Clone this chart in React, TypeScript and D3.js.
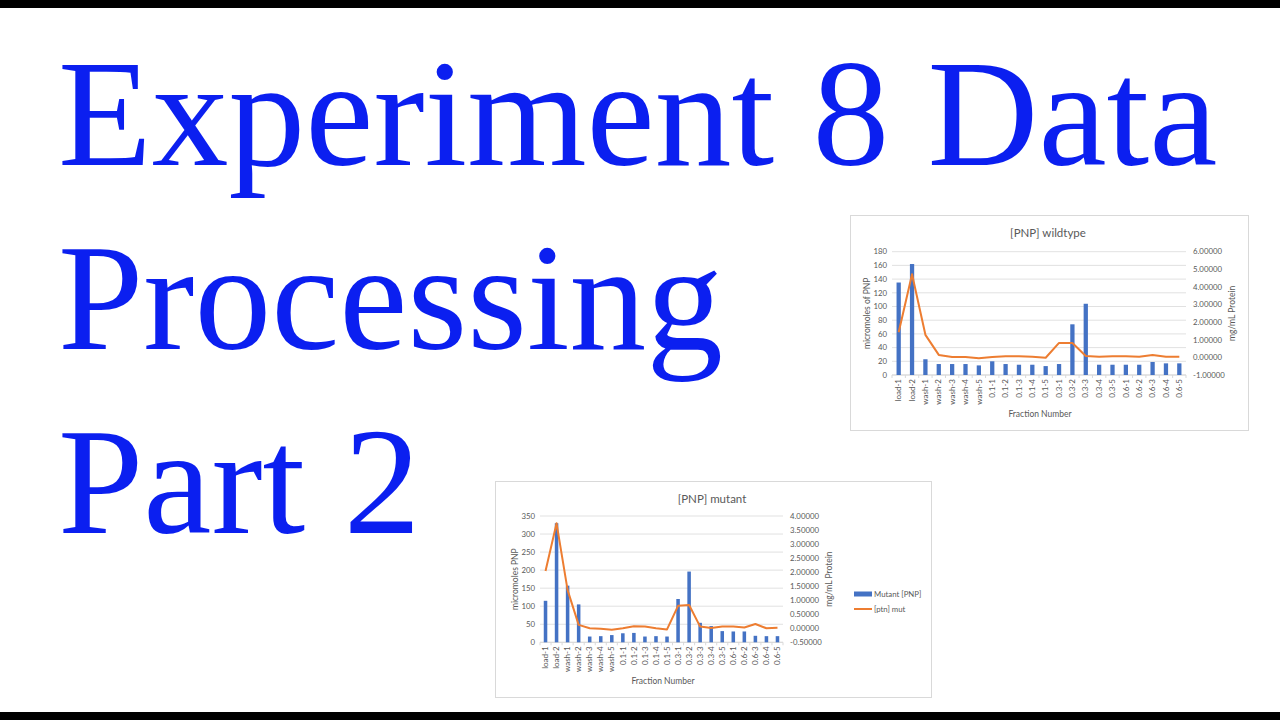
import * as d3 from "d3";

// fractions collected from the column
const fractions = [
  "load-1", "load-2", "wash-1", "wash-2", "wash-3", "wash-4", "wash-5",
  "0.1-1", "0.1-2", "0.1-3", "0.1-4", "0.1-5",
  "0.3-1", "0.3-2", "0.3-3", "0.3-4", "0.3-5",
  "0.6-1", "0.6-2", "0.6-3", "0.6-4", "0.6-5",
];

// wildtype: micromoles of PNP (bars) and mg/mL protein (line)
const wildtypePnp = [135, 162, 23, 16, 16, 16, 14, 20, 16, 15, 15, 13, 16, 74, 104, 15, 15, 15, 15, 19, 17, 17];
const wildtypeProtein = [1.43, 4.72, 1.28, 0.14, 0.02, 0.02, -0.05, 0.02, 0.07, 0.07, 0.03, -0.02, 0.82, 0.82, 0.08, 0.04, 0.06, 0.06, 0.04, 0.14, 0.04, 0.04];

// mutant
const mutantPnp = [115, 330, 157, 105, 16, 17, 20, 25, 26, 16, 17, 16, 120, 196, 54, 45, 31, 30, 30, 18, 17, 17];
const mutantProtein = [2.04, 3.74, 1.36, 0.12, 0.0, -0.02, -0.05, 0.0, 0.07, 0.06, 0.0, -0.04, 0.8, 0.83, 0.06, 0.01, 0.06, 0.06, 0.03, 0.15, 0.0, 0.02];

const wtLeftTicks = [0, 20, 40, 60, 80, 100, 120, 140, 160, 180];
const wtRightTicks = [-1, 0, 1, 2, 3, 4, 5, 6];
const mutLeftTicks = [0, 50, 100, 150, 200, 250, 300, 350];
const mutRightTicks = [-0.5, 0, 0.5, 1, 1.5, 2, 2.5, 3, 3.5, 4];

const headingLines = ["Experiment 8 Data", "Processing", "Part 2"];

const BLUE = "#4472c4";
const ORANGE = "#ed7d31";
const GREY = "#595959";
const GRID = "#d9d9d9";
const FONT = "Lato, 'Open Sans', sans-serif";

type ChartProps = {
  box: [number, number, number, number];
  plot: { left: number; right: number; top: number; bottom: number };
  title: string;
  yTitle: string;
  bars: number[];
  line: number[];
  leftTicks: number[];
  rightTicks: number[];
  titleX: number;
  xTitleX: number;
  legend?: { x: number; y: number; bar: string; line: string };
};

function Chart(p: ChartProps) {
  const { plot } = p;
  const x = d3.scaleBand<string>()
    .domain(fractions)
    .range([plot.left, plot.right])
    .paddingInner(0.68)
    .paddingOuter(0.34);
  const yL = d3.scaleLinear()
    .domain(d3.extent(p.leftTicks) as [number, number])
    .range([plot.bottom, plot.top]);
  const yR = d3.scaleLinear()
    .domain(d3.extent(p.rightTicks) as [number, number])
    .range([plot.bottom, plot.top]);
  const cx = (f: string) => (x(f) as number) + x.bandwidth() / 2;
  const path = d3.line<number>()
    .x((_, i) => cx(fractions[i]))
    .y((d) => yR(d))(p.line);
  const step = x.step();
  const midY = (plot.top + plot.bottom) / 2;

  return (
    <g fontFamily={FONT} fill={GREY}>
      <rect x={p.box[0]} y={p.box[1]} width={p.box[2]} height={p.box[3]} fill="#fff" stroke={GRID} />
      <text x={p.titleX} y={p.box[1] + 21} textAnchor="middle" fontSize={11.5}>{p.title}</text>

      {p.leftTicks.map((t) => (
        <g key={"l" + t}>
          <line x1={plot.left} x2={plot.right} y1={yL(t)} y2={yL(t)} stroke={GRID} strokeWidth={0.8} />
          <text x={plot.left - 5} y={yL(t)} dy="0.35em" textAnchor="end" fontSize={7.8}>{t}</text>
        </g>
      ))}
      {p.rightTicks.map((t) => (
        <text key={"r" + t} x={plot.right + 7} y={yR(t)} dy="0.35em" fontSize={7.8}>{t.toFixed(5)}</text>
      ))}

      {/* category axis with ticks between fractions */}
      <line x1={plot.left} x2={plot.right} y1={plot.bottom} y2={plot.bottom} stroke={GRID} />
      {d3.range(fractions.length + 1).map((i) => (
        <line key={"t" + i} x1={plot.left + i * step} x2={plot.left + i * step}
          y1={plot.bottom} y2={plot.bottom + 3} stroke={GRID} />
      ))}
      {fractions.map((f) => (
        <text key={f} transform={`translate(${cx(f) + 2.7},${plot.bottom + 4}) rotate(-90)`}
          textAnchor="end" fontSize={8}>{f}</text>
      ))}

      {p.bars.map((v, i) => (
        <rect key={"b" + i} x={x(fractions[i])} y={yL(v)} width={x.bandwidth()}
          height={yL(0) - yL(v)} fill={BLUE} />
      ))}
      <path d={path ?? ""} fill="none" stroke={ORANGE} strokeWidth={2} strokeLinejoin="round" />

      <text transform={`translate(${plot.left - 22},${midY}) rotate(-90)`} textAnchor="middle" fontSize={8.5}>{p.yTitle}</text>
      <text transform={`translate(${plot.right + 49},${midY}) rotate(-90)`} textAnchor="middle" fontSize={8.5}>mg/mL Protein</text>
      <text x={p.xTitleX} y={p.box[1] + p.box[3] - 14} textAnchor="middle" fontSize={8.5}>Fraction Number</text>

      {p.legend && (
        <g fontSize={7.8}>
          <rect x={p.legend.x} y={p.legend.y - 2.5} width={18} height={5} fill={BLUE} />
          <text x={p.legend.x + 20} y={p.legend.y} dy="0.35em">{p.legend.bar}</text>
          <line x1={p.legend.x} x2={p.legend.x + 18} y1={p.legend.y + 15} y2={p.legend.y + 15} stroke={ORANGE} strokeWidth={2} />
          <text x={p.legend.x + 20} y={p.legend.y + 15} dy="0.35em">{p.legend.line}</text>
        </g>
      )}
    </g>
  );
}

export default function App() {
  return (
    <svg width={1280} height={720} style={{ position: "absolute", left: 0, top: 0, background: "#fff" }}>
      <rect x={0} y={0} width={1280} height={8} fill="#000" />
      <rect x={0} y={712} width={1280} height={8} fill="#000" />
      {headingLines.map((t, i) => (
        <text key={t} x={58} y={165 + i * 184} fontFamily="'Liberation Serif', 'Times New Roman', serif"
          fontSize={153.5} fill="#0b1ff0">{t}</text>
      ))}

      <Chart
        box={[850.5, 215.5, 398, 215]}
        plot={{ left: 892, right: 1186, top: 251.7, bottom: 375 }}
        title="[PNP] wildtype"
        yTitle="micromoles of PNP"
        bars={wildtypePnp}
        line={wildtypeProtein}
        leftTicks={wtLeftTicks}
        rightTicks={wtRightTicks}
        titleX={1048}
        xTitleX={1040}
      />
      <Chart
        box={[495.5, 481.5, 436, 216]}
        plot={{ left: 540, right: 783, top: 516, bottom: 642.3 }}
        title="[PNP] mutant"
        yTitle="micromoles PNP"
        bars={mutantPnp}
        line={mutantProtein}
        leftTicks={mutLeftTicks}
        rightTicks={mutRightTicks}
        titleX={712}
        xTitleX={663}
        legend={{ x: 854, y: 594, bar: "Mutant [PNP]", line: "[ptn] mut" }}
      />
    </svg>
  );
}
